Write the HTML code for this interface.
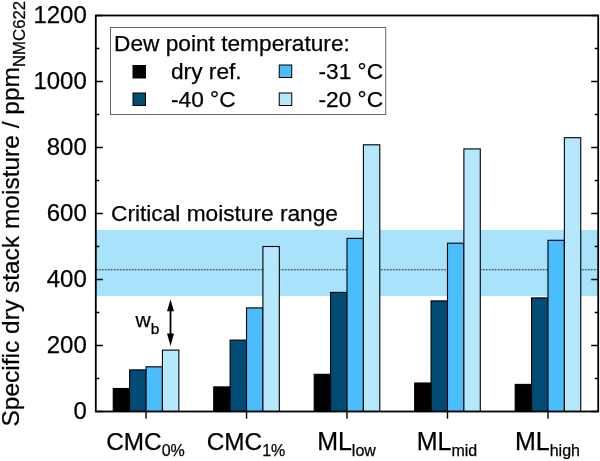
<!DOCTYPE html>
<html><head><meta charset="utf-8"><style>
html,body{margin:0;padding:0;background:#fff;width:600px;height:461px;overflow:hidden}
svg{display:block;will-change:transform}
text{font-family:"Liberation Sans", sans-serif;fill:#000;stroke:#000;stroke-width:0.25px}
</style></head><body>
<svg width="600" height="461" viewBox="0 0 600 461">
<rect x="95.8" y="230.00" width="502.40000000000003" height="66.00" fill="#a9e2fb"/>
<line x1="95.8" y1="269.7" x2="598.2" y2="269.7" stroke="#2a2a2a" stroke-width="1.15" stroke-dasharray="1.8 1.2"/>
<rect x="113.24" y="388.50" width="16.4" height="23.00" fill="#000000" stroke="#000" stroke-width="1.1"/>
<rect x="129.64" y="369.90" width="16.4" height="41.60" fill="#014c75" stroke="#000" stroke-width="1.1"/>
<rect x="146.04" y="366.80" width="16.4" height="44.70" fill="#4bbcfc" stroke="#000" stroke-width="1.1"/>
<rect x="162.44" y="350.10" width="16.4" height="61.40" fill="#b5e7fd" stroke="#000" stroke-width="1.1"/>
<line x1="146.04" y1="411.5" x2="146.04" y2="418.7" stroke="#000" stroke-width="1.4"/>
<rect x="213.72" y="386.90" width="16.4" height="24.60" fill="#000000" stroke="#000" stroke-width="1.1"/>
<rect x="230.12" y="340.10" width="16.4" height="71.40" fill="#014c75" stroke="#000" stroke-width="1.1"/>
<rect x="246.52" y="307.90" width="16.4" height="103.60" fill="#4bbcfc" stroke="#000" stroke-width="1.1"/>
<rect x="262.92" y="246.50" width="16.4" height="165.00" fill="#b5e7fd" stroke="#000" stroke-width="1.1"/>
<line x1="246.52" y1="411.5" x2="246.52" y2="418.7" stroke="#000" stroke-width="1.4"/>
<rect x="314.20" y="374.30" width="16.4" height="37.20" fill="#000000" stroke="#000" stroke-width="1.1"/>
<rect x="330.60" y="292.40" width="16.4" height="119.10" fill="#014c75" stroke="#000" stroke-width="1.1"/>
<rect x="347.00" y="238.40" width="16.4" height="173.10" fill="#4bbcfc" stroke="#000" stroke-width="1.1"/>
<rect x="363.40" y="144.80" width="16.4" height="266.70" fill="#b5e7fd" stroke="#000" stroke-width="1.1"/>
<line x1="347.00" y1="411.5" x2="347.00" y2="418.7" stroke="#000" stroke-width="1.4"/>
<rect x="414.68" y="383.00" width="16.4" height="28.50" fill="#000000" stroke="#000" stroke-width="1.1"/>
<rect x="431.08" y="300.90" width="16.4" height="110.60" fill="#014c75" stroke="#000" stroke-width="1.1"/>
<rect x="447.48" y="243.20" width="16.4" height="168.30" fill="#4bbcfc" stroke="#000" stroke-width="1.1"/>
<rect x="463.88" y="148.90" width="16.4" height="262.60" fill="#b5e7fd" stroke="#000" stroke-width="1.1"/>
<line x1="447.48" y1="411.5" x2="447.48" y2="418.7" stroke="#000" stroke-width="1.4"/>
<rect x="515.16" y="384.40" width="16.4" height="27.10" fill="#000000" stroke="#000" stroke-width="1.1"/>
<rect x="531.56" y="297.90" width="16.4" height="113.60" fill="#014c75" stroke="#000" stroke-width="1.1"/>
<rect x="547.96" y="240.30" width="16.4" height="171.20" fill="#4bbcfc" stroke="#000" stroke-width="1.1"/>
<rect x="564.36" y="137.70" width="16.4" height="273.80" fill="#b5e7fd" stroke="#000" stroke-width="1.1"/>
<line x1="547.96" y1="411.5" x2="547.96" y2="418.7" stroke="#000" stroke-width="1.4"/>
<line x1="95.8" y1="411.50" x2="102.8" y2="411.50" stroke="#000" stroke-width="1.5"/>
<line x1="598.2" y1="411.50" x2="591.2" y2="411.50" stroke="#000" stroke-width="1.5"/>
<text x="86.8" y="419.00" text-anchor="end" font-size="24">0</text>
<line x1="95.8" y1="378.50" x2="99.3" y2="378.50" stroke="#000" stroke-width="1.5"/>
<line x1="598.2" y1="378.50" x2="594.7" y2="378.50" stroke="#000" stroke-width="1.5"/>
<line x1="95.8" y1="345.50" x2="102.8" y2="345.50" stroke="#000" stroke-width="1.5"/>
<line x1="598.2" y1="345.50" x2="591.2" y2="345.50" stroke="#000" stroke-width="1.5"/>
<text x="86.8" y="353.00" text-anchor="end" font-size="24">200</text>
<line x1="95.8" y1="312.50" x2="99.3" y2="312.50" stroke="#000" stroke-width="1.5"/>
<line x1="598.2" y1="312.50" x2="594.7" y2="312.50" stroke="#000" stroke-width="1.5"/>
<line x1="95.8" y1="279.50" x2="102.8" y2="279.50" stroke="#000" stroke-width="1.5"/>
<line x1="598.2" y1="279.50" x2="591.2" y2="279.50" stroke="#000" stroke-width="1.5"/>
<text x="86.8" y="287.00" text-anchor="end" font-size="24">400</text>
<line x1="95.8" y1="246.50" x2="99.3" y2="246.50" stroke="#000" stroke-width="1.5"/>
<line x1="598.2" y1="246.50" x2="594.7" y2="246.50" stroke="#000" stroke-width="1.5"/>
<line x1="95.8" y1="213.50" x2="102.8" y2="213.50" stroke="#000" stroke-width="1.5"/>
<line x1="598.2" y1="213.50" x2="591.2" y2="213.50" stroke="#000" stroke-width="1.5"/>
<text x="86.8" y="221.00" text-anchor="end" font-size="24">600</text>
<line x1="95.8" y1="180.50" x2="99.3" y2="180.50" stroke="#000" stroke-width="1.5"/>
<line x1="598.2" y1="180.50" x2="594.7" y2="180.50" stroke="#000" stroke-width="1.5"/>
<line x1="95.8" y1="147.50" x2="102.8" y2="147.50" stroke="#000" stroke-width="1.5"/>
<line x1="598.2" y1="147.50" x2="591.2" y2="147.50" stroke="#000" stroke-width="1.5"/>
<text x="86.8" y="155.00" text-anchor="end" font-size="24">800</text>
<line x1="95.8" y1="114.50" x2="99.3" y2="114.50" stroke="#000" stroke-width="1.5"/>
<line x1="598.2" y1="114.50" x2="594.7" y2="114.50" stroke="#000" stroke-width="1.5"/>
<line x1="95.8" y1="81.50" x2="102.8" y2="81.50" stroke="#000" stroke-width="1.5"/>
<line x1="598.2" y1="81.50" x2="591.2" y2="81.50" stroke="#000" stroke-width="1.5"/>
<text x="86.8" y="89.00" text-anchor="end" font-size="24">1000</text>
<line x1="95.8" y1="48.50" x2="99.3" y2="48.50" stroke="#000" stroke-width="1.5"/>
<line x1="598.2" y1="48.50" x2="594.7" y2="48.50" stroke="#000" stroke-width="1.5"/>
<line x1="95.8" y1="15.50" x2="102.8" y2="15.50" stroke="#000" stroke-width="1.5"/>
<line x1="598.2" y1="15.50" x2="591.2" y2="15.50" stroke="#000" stroke-width="1.5"/>
<text x="86.8" y="23.00" text-anchor="end" font-size="24">1200</text>
<rect x="95.8" y="15.5" width="502.40000000000003" height="396.0" fill="none" stroke="#000" stroke-width="1.8"/>
<text x="145.54" y="450.4" text-anchor="middle" font-size="24.3">CMC<tspan font-size="16" dy="6">0%</tspan></text>
<text x="246.02" y="450.4" text-anchor="middle" font-size="24.3">CMC<tspan font-size="16" dy="6">1%</tspan></text>
<text x="346.50" y="450.4" text-anchor="middle" font-size="25">ML<tspan font-size="16" dy="6">low</tspan></text>
<text x="446.98" y="450.4" text-anchor="middle" font-size="25">ML<tspan font-size="16" dy="6">mid</tspan></text>
<text x="547.46" y="450.4" text-anchor="middle" font-size="25">ML<tspan font-size="16" dy="6">high</tspan></text>
<text transform="translate(18.8,426.5) rotate(-90)" font-size="24.5">Specific dry stack moisture / ppm<tspan font-size="16.8" dy="6">NMC622</tspan></text>
<rect x="110.5" y="27.5" width="275.2" height="87" fill="#fff" stroke="#666" stroke-width="1"/>
<text x="114" y="50.5" font-size="22.7">Dew point temperature:</text>
<rect x="133.0" y="65.5" width="12.5" height="12.5" fill="#000000" stroke="#000" stroke-width="1"/>
<text x="171" y="79" font-size="22.7">dry ref.</text>
<rect x="133.0" y="93.0" width="12.5" height="12.5" fill="#014c75" stroke="#000" stroke-width="1"/>
<text x="171" y="106.5" font-size="22.7">-40 °C</text>
<rect x="279.25" y="65.0" width="12.5" height="12.5" fill="#4bbcfc" stroke="#000" stroke-width="1"/>
<text x="318.5" y="78.5" font-size="22.7">-31 °C</text>
<rect x="279.25" y="93.0" width="12.5" height="12.5" fill="#b5e7fd" stroke="#000" stroke-width="1"/>
<text x="318.5" y="106.5" font-size="22.7">-20 °C</text>
<text x="111" y="220.5" font-size="22.7">Critical moisture range</text>
<text x="135.6" y="327.1" font-size="21">w<tspan font-size="15.5" dy="6.5">b</tspan></text>
<line x1="170.5" y1="305" x2="170.5" y2="340" stroke="#000" stroke-width="1.8"/>
<path d="M170.5 299.4 L174 311.3 L167 311.3 Z" fill="#000"/>
<path d="M170.5 345.9 L174 333.4 L167 333.4 Z" fill="#000"/>
</svg></body></html>
